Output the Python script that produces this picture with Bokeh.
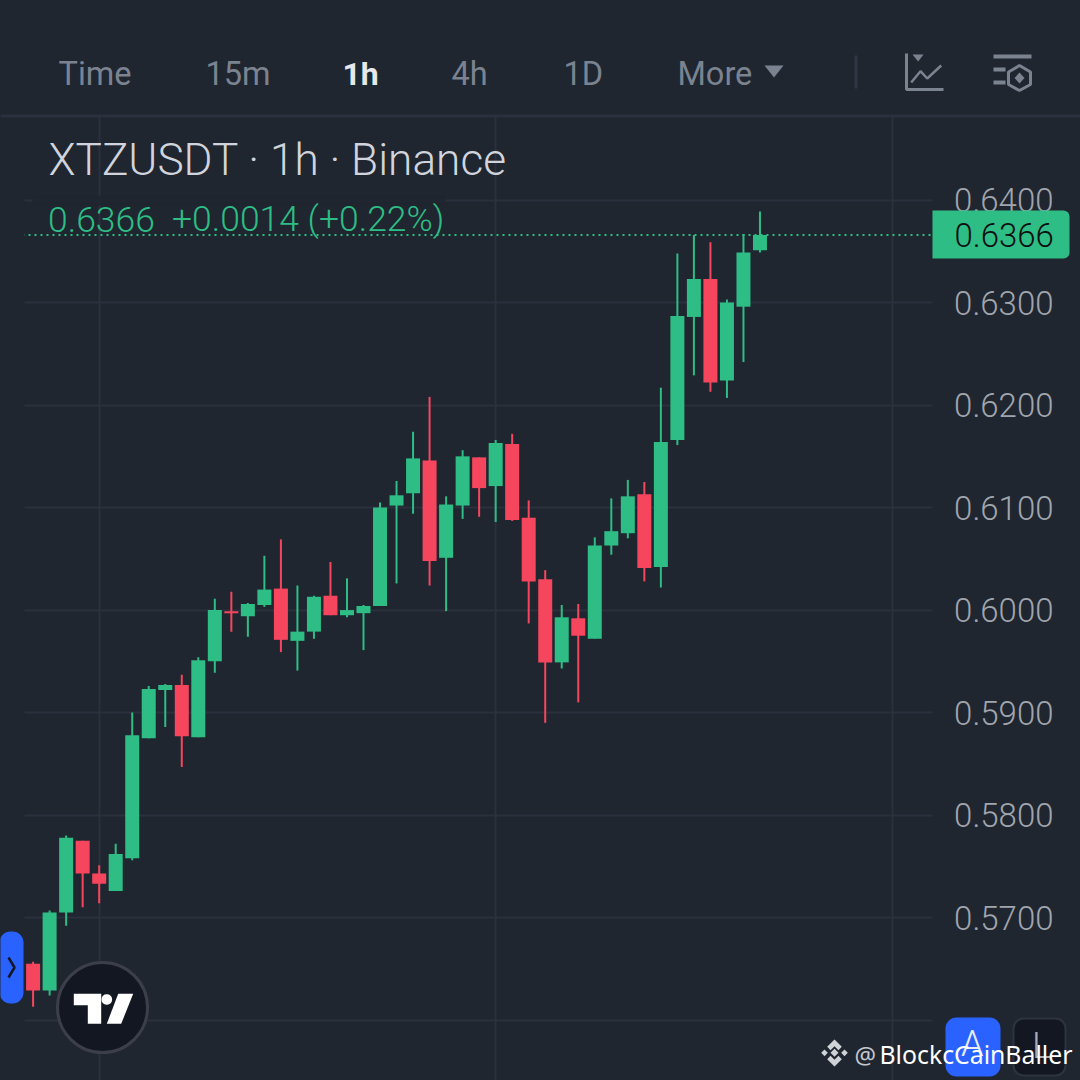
from bokeh.embed import file_html
from bokeh.resources import INLINE
from bokeh.plotting import figure
from bokeh.models import (ColumnDataSource, FixedTicker, Grid, Label, Span, BoxAnnotation,
                          PolyAnnotation, PrintfTickFormatter, Range1d, LinearAxis)

# ---- data -------------------------------------------------------------
opens  = [.5655,.5629,.5705,.5775,.5743,.5726,.5758,.5875,.5922,.5927,.5876,.5950,.5999,.5994,.6005,
          .6021,.5970,.5979,.6014,.5995,.5997,.6004,.6102,.6114,.6146,.6051,.6102,.6149,.6121,.6162,
          .6090,.6030,.5949,.5992,.5972,.6063,.6075,.6113,.6042,.6166,.6286,.6323,.6224,.6296,.6351]
highs  = [.5657,.5707,.5780,.5775,.5751,.5772,.5900,.5926,.5928,.5937,.5954,.6011,.6018,.6007,.6053,
          .6069,.6024,.6014,.6047,.6031,.6005,.6105,.6126,.6174,.6208,.6111,.6156,.6149,.6166,.6172,
          .6107,.6039,.6005,.6006,.6071,.6109,.6127,.6125,.6217,.6348,.6366,.6359,.6303,.6367,.6389]
lows   = [.5613,.5624,.5692,.5710,.5714,.5726,.5756,.5875,.5886,.5847,.5876,.5939,.5979,.5974,.6003,
          .5959,.5941,.5972,.5995,.5993,.5961,.6004,.6026,.6094,.6024,.5999,.6089,.6091,.6086,.6087,
          .5987,.5890,.5943,.5910,.5972,.6054,.6070,.6028,.6022,.6161,.6229,.6213,.6207,.6242,.6349]
closes = [.5629,.5705,.5778,.5743,.5733,.5762,.5878,.5923,.5927,.5877,.5951,.6000,.5997,.6006,.6020,
          .5971,.5979,.6013,.5995,.6000,.6004,.6100,.6112,.6148,.6048,.6103,.6150,.6119,.6163,.6088,
          .6028,.5949,.5993,.5975,.6063,.6077,.6111,.6041,.6164,.6287,.6323,.6222,.6300,.6349,.6366]
axis_ticks = [.57,.58,.59,.60,.61,.62,.63,.64]
grid_y_ticks = [.56,.57,.58,.59,.60,.61,.62,.63,.64]
grid_x_ticks = [4,28,52]
last_price = .6366
title_text = "XTZUSDT · 1h · Binance"
price_text = "0.6366"
change_text = "+0.0014 (+0.22%)"
menu = [("Time",59),("15m",206),("1h",343),("4h",452),("1D",564),("More",678)]

# ---- style ------------------------------------------------------------
BG="#1f2630"; GRID="#2a313c"; GREEN="#2ebd85"; RED="#f6465d"; MUTED="#7c8390"; LABEL="#a1a5ad"
BLUE="#2962ff"; DARK="#131722"; FONT="Roboto Light"

STEP=16.52
xs=list(range(len(opens)))
up=[c>=o for o,c in zip(opens,closes)]
src=ColumnDataSource(dict(x=xs,o=opens,h=highs,l=lows,c=closes,
    top=[max(a,b) for a,b in zip(opens,closes)],bot=[min(a,b) for a,b in zip(opens,closes)],
    color=[GREEN if u else RED for u in up]))

p=figure(width=1080,height=1080,frame_width=1080,frame_height=1080,output_backend="svg",toolbar_location=None,
         x_axis_location=None,y_axis_location=None,
         x_range=Range1d(-32.6/STEP,1047.4/STEP),y_range=Range1d(.64-880.4/10250,.64+199.6/10250),
         min_border_left=0,min_border_top=0,min_border_bottom=0,min_border_right=0,
         background_fill_color=BG,border_fill_color=BG,outline_line_color=None)

ax=LinearAxis(fixed_location=899/STEP)
p.add_layout(ax,"right")
ax.ticker=FixedTicker(ticks=axis_ticks)
ax.formatter=PrintfTickFormatter(format="%.4f")
ax.axis_line_color=None; ax.major_tick_line_color=None; ax.minor_tick_line_color=None
ax.major_tick_out=0; ax.major_tick_in=0
ax.major_label_standoff=22
ax.major_label_text_font=FONT; ax.major_label_text_font_size="33px"; ax.major_label_text_color=LABEL

for g in list(p.ygrid)+list(p.xgrid): g.visible=False
p.add_layout(Grid(dimension=1,ticker=FixedTicker(ticks=grid_y_ticks),grid_line_color=GRID,grid_line_width=2))
p.add_layout(Grid(dimension=0,ticker=FixedTicker(ticks=grid_x_ticks),grid_line_color=GRID,grid_line_width=2))
p.add_layout(Span(location=last_price,dimension="width",line_color=GREEN,line_dash="2 4",line_dash_offset=2,line_width=2,level="underlay"))

D=4  # rendering offset of canvas-positioned shapes
def box(l,r,t,b,fill,radius=0,line=None,lw=0,alpha=1,level="annotation"):
    a=BoxAnnotation(left=l-D,right=r-D,top=t-D,bottom=b-D,left_units="canvas",right_units="canvas",top_units="canvas",bottom_units="canvas",
        fill_color=fill,fill_alpha=alpha,line_color=line,line_width=lw,line_alpha=1 if line else 0,border_radius=radius,level=level)
    p.add_layout(a)
def poly(pts,fill=None,line=None,lw=0):
    a=PolyAnnotation(xs=[q[0]-D for q in pts],ys=[q[1]-D for q in pts],xs_units="canvas",ys_units="canvas",
        fill_color=fill,fill_alpha=1 if fill else 0,line_color=line,line_alpha=1 if line else 0,line_width=lw)
    p.add_layout(a)
def path(pts,color,lw):
    poly(pts+pts[-2:0:-1],None,color,lw)
def text(s,x,y,size,color,style="normal",font=FONT):
    p.add_layout(Label(x=x-1,y=y-0.35*size,x_units="canvas",y_units="canvas",text=s,text_font=font,text_font_size=f"{size}px",
        text_color=color,text_font_style=style,text_baseline="alphabetic"))

# masks that end the grid where the price scale, the header and the left gutter begin
box(-5,1085,-5,118,BG,level="underlay")
box(-5,28,-5,1085,BG,level="underlay")
box(936,1085,-5,1085,BG,level="underlay")
box(-5,1085,118,121,GRID,level="underlay")
box(36,449,199,209,BG,alpha=.9,level="underlay")

p.segment("x","h","x","l",source=src,line_color="color",line_width=2)
p.vbar("x",width=14/STEP,top="top",bottom="bot",source=src,fill_color="color",line_color="color",line_width=0)

for s,x in menu:
    if s=="1h": text(s,x,85,32,"#e6e8ec","bold","Roboto")
    else: text(s,x,85,32.5,MUTED,font="Roboto")
poly([(768,69),(787,69),(777.5,81)],MUTED)
box(858,861,59,92,"#2f3744")
# chart icon
path([(910,57),(910,93),(947,93)],MUTED,3)
poly([(916,58),(927,58),(921.7,65)],MUTED)
path([(914.7,86),(924,74.7),(930.7,82),(944.7,69)],MUTED,2.5)
# settings icon
box(997,1035,58,62,MUTED); box(997,1009,71,75,MUTED); box(997,1009,84,88,MUTED)
poly([(1023,69),(1034,75.5),(1034,88),(1023,94),(1012,88),(1012,75.5)],None,MUTED,3)
poly([(1023,76),(1028,81.5),(1023,87),(1018,81.5)],MUTED)

# legend
text(title_text,49,175,44.2,"#d1d4dc")
text(price_text,48.5,231,35.5,GREEN)
text(change_text,172.5,231,35.5,GREEN)

# price tag
box(936,1073,214,262,GREEN,radius=(0,6,6,0))
text(price_text,955,246,33,"#0b0e11")

# left pull button
box(3,27,935,1007,BLUE,radius=11)
path([(12,961),(18,971),(12,981)],"#131722",2.5)

# TradingView badge
box(61,151,966,1056,DARK,radius=45,line="#3c3f49",lw=3)
poly([(77.3,997.3),(104.7,997.3),(104.7,1027.3),(91.3,1027.3),(91.3,1008.7),(77.3,1008.7)],"#ffffff")
box(105,115.6,997.7,1008.3,"#ffffff",radius=5)
poly([(121.7,997.3),(136.7,997.3),(124.7,1027.3),(110.3,1027.3)],"#ffffff")

# bottom-right buttons
box(949,1004,1021,1080,BLUE,radius=11)
text("A",961.5,1056,36,"#e8ecf5")
box(1017,1069,1022,1079,DARK,radius=10,line="#2f3340",lw=2)
text("L",1032.5,1058,36,"#a6aab2")

# watermark
W="#cfd2d7"
poly([(838,1043),(845.3,1050.3),(842,1053.7),(838,1049.7),(834,1053.7),(830.7,1050.3)],W)
poly([(838,1070),(845.3,1062.7),(842,1059.3),(838,1063.3),(834,1059.3),(830.7,1062.7)],W)
poly([(838,1052.3),(842,1056.3),(838,1060.3),(834,1056.3)],W)
poly([(824.7,1056.3),(828,1053),(831.3,1056.3),(828,1059.7)],W)
poly([(851.3,1056.3),(848,1053),(844.7,1056.3),(848,1059.7)],W)
text("@",855,1062,24,"#c4c7cc",font="Noto Sans")
text("BlockcCainBaller",880,1062,24.8,"#ffffff",font="Noto Sans")

html=file_html(p,INLINE,title="XTZUSDT")
html=html.replace("</head>","<style>html,body{margin:0;padding:0;background:#1f2630;overflow:hidden}</style></head>",1)
open("out.html","w").write(html)
